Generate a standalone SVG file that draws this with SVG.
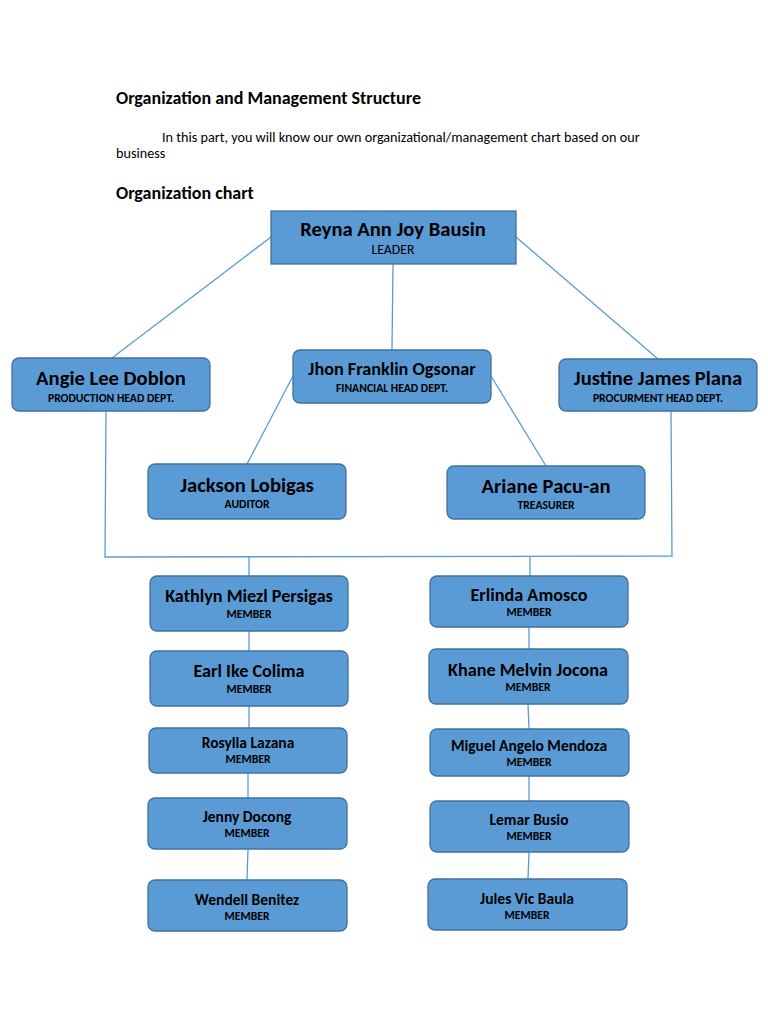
<svg xmlns="http://www.w3.org/2000/svg" width="768" height="1024" viewBox="0 0 768 1024">
<style>
text{font-family:Carlito,Lato,"Liberation Sans",sans-serif;fill:#000}
.h{font-weight:bold;font-size:18px}
.p{font-size:14.2px}
.box{fill:#5B9BD5;stroke:#41719C;stroke-width:1.3}
.n{font-weight:bold;text-anchor:middle}
.big{font-size:20.6px}
.med{font-size:18.2px}
.sm{font-size:15.5px}
.sub{font-weight:bold;font-size:11.7px;text-anchor:middle}
.lead{font-size:13.8px;text-anchor:middle}
.c{stroke:#5B9BD5;stroke-width:1.3;fill:none}
</style>
<rect width="768" height="1024" fill="#fff"/>
<text class="h" x="116" y="104">Organization and Management Structure</text>
<text class="p" x="162" y="142">In this part, you will know our own organizational/management chart based on our</text>
<text class="p" x="116" y="158">business</text>
<text class="h" x="116" y="199">Organization chart</text>
<g id="connectors">
<line class="c" x1="271" y1="237" x2="112" y2="358"/>
<line class="c" x1="516" y1="237" x2="658" y2="359"/>
<line class="c" x1="393" y1="264" x2="392" y2="350"/>
<line class="c" x1="293" y1="376" x2="247" y2="464"/>
<line class="c" x1="491" y1="376" x2="546" y2="466"/>
<polyline class="c" points="106,411 105,557 672,556 671,411"/>
<line class="c" x1="249" y1="557" x2="249" y2="576"/>
<line class="c" x1="530" y1="556" x2="530" y2="576"/>
<line class="c" x1="249" y1="631" x2="249" y2="651"/>
<line class="c" x1="249" y1="706" x2="249" y2="728"/>
<line class="c" x1="248" y1="773" x2="248" y2="798"/>
<line class="c" x1="248" y1="849" x2="247" y2="880"/>
<line class="c" x1="529" y1="627" x2="529" y2="649"/>
<line class="c" x1="528" y1="704" x2="529" y2="729"/>
<line class="c" x1="529" y1="776" x2="529" y2="801"/>
<line class="c" x1="529" y1="852" x2="528" y2="879"/>
</g>
<g id="leader"><rect class="box" x="271" y="211" width="245" height="53"/><text class="n big" x="393" y="235.5">Reyna Ann Joy Bausin</text><text class="lead" x="393" y="254">LEADER</text></g>
<g id="angie"><rect class="box" x="12" y="358" width="198" height="53" rx="7"/><text class="n big" x="111" y="384.5">Angie Lee Doblon</text><text class="sub" x="111" y="401.5">PRODUCTION HEAD DEPT.</text></g>
<g id="jhon"><rect class="box" x="293" y="350" width="198" height="53" rx="7"/><text class="n med" x="392" y="375">Jhon Franklin Ogsonar</text><text class="sub" x="392" y="391.5">FINANCIAL HEAD DEPT.</text></g>
<g id="justine"><rect class="box" x="559" y="359" width="198" height="52" rx="7"/><text class="n big" x="658" y="384.5">Justine James Plana</text><text class="sub" x="658" y="401.5">PROCURMENT HEAD DEPT.</text></g>
<g id="jackson"><rect class="box" x="148" y="464" width="198" height="55" rx="7"/><text class="n big" x="247" y="492">Jackson Lobigas</text><text class="sub" x="247" y="508">AUDITOR</text></g>
<g id="ariane"><rect class="box" x="447" y="466" width="198" height="53" rx="7"/><text class="n big" x="546" y="492.5">Ariane Pacu-an</text><text class="sub" x="546" y="508.5">TREASURER</text></g>
<g id="kathlyn"><rect class="box" x="150" y="576" width="198" height="55" rx="7"/><text class="n med" x="249" y="601.5">Kathlyn Miezl Persigas</text><text class="sub" x="249" y="617.5">MEMBER</text></g>
<g id="earl"><rect class="box" x="150" y="651" width="198" height="55" rx="7"/><text class="n med" x="249" y="676.5">Earl Ike Colima</text><text class="sub" x="249" y="693">MEMBER</text></g>
<g id="rosylla"><rect class="box" x="149" y="728" width="198" height="45" rx="7"/><text class="n sm" x="248" y="748">Rosylla Lazana</text><text class="sub" x="248" y="762.5">MEMBER</text></g>
<g id="jenny"><rect class="box" x="148" y="798" width="199" height="51" rx="7"/><text class="n sm" x="247" y="822">Jenny Docong</text><text class="sub" x="247" y="836.5">MEMBER</text></g>
<g id="wendell"><rect class="box" x="148" y="880" width="199" height="51" rx="7"/><text class="n sm" x="247" y="905">Wendell Benitez</text><text class="sub" x="247" y="919.5">MEMBER</text></g>
<g id="erlinda"><rect class="box" x="430" y="576" width="198" height="51" rx="7"/><text class="n med" x="529" y="600.5">Erlinda Amosco</text><text class="sub" x="529" y="615.5">MEMBER</text></g>
<g id="khane"><rect class="box" x="429" y="649" width="199" height="55" rx="7"/><text class="n med" x="528" y="675.5">Khane Melvin Jocona</text><text class="sub" x="528" y="690.5">MEMBER</text></g>
<g id="miguel"><rect class="box" x="430" y="729" width="199" height="47" rx="7"/><text class="n sm" x="529" y="751">Miguel Angelo Mendoza</text><text class="sub" x="529" y="765.5">MEMBER</text></g>
<g id="lemar"><rect class="box" x="430" y="801" width="199" height="51" rx="7"/><text class="n sm" x="529" y="825">Lemar Busio</text><text class="sub" x="529" y="839.5">MEMBER</text></g>
<g id="jules"><rect class="box" x="428" y="879" width="199" height="51" rx="7"/><text class="n sm" x="527" y="904">Jules Vic Baula</text><text class="sub" x="527" y="918.5">MEMBER</text></g>
</svg>
